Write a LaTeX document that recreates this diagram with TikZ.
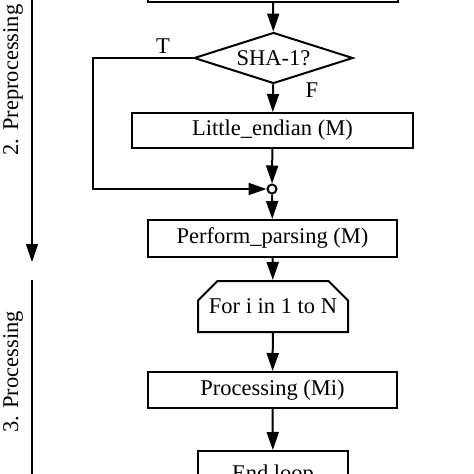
\documentclass[tikz,border=0pt]{standalone}
\usepackage{fontspec}
\setmainfont{Liberation Serif}
\usetikzlibrary{arrows.meta,shapes.geometric,shapes.misc}
\tikzset{
    stage/.style={draw,line width=2pt,rectangle,inner sep=0pt,minimum height=36pt},
    loopbox/.style={draw,line width=2pt,chamfered rectangle,chamfered rectangle corners={north west,north east},
        chamfered rectangle xsep=12pt,chamfered rectangle ysep=12pt,inner sep=0pt,minimum width=150pt,minimum height=51pt},
    flow/.style={line width=2pt,-{Triangle[length=18pt,width=12pt]}},
}
\begin{document}
\begin{tikzpicture}[x=1pt,y=-1pt,font=\fontsize{22.5}{27}\selectfont]
                \useasboundingbox (0,0) rectangle (474,474);
                % main column
                \node[stage,minimum width=250pt] (init) at (273,-16) {};
                \node[draw,line width=2pt,diamond,shape aspect=3.1,inner sep=0pt,minimum width=159pt,minimum height=51pt] (sha) at (273.5,58) {SHA-1?};
                \node[stage,minimum width=281pt,minimum height=35pt] (little) at (272.5,130.5) {Little\_endian (M)};
                \node[draw,line width=2pt,circle,fill=white,inner sep=0pt,minimum size=9pt] (junc) at (272,189) {};
                \node[stage,minimum width=249pt,minimum height=37pt] (parse) at (272.5,238.5) {Perform\_parsing (M)};
                \node[loopbox] (loop) at (273,306.5) {For i in 1 to N};
                \node[stage,minimum width=249pt] (proc) at (272.5,390) {Processing (Mi)};
                \node[stage,minimum width=150pt,minimum height=48pt] (endl) at (273,475) {End loop};
                \foreach \a/\b in {init/sha,sha/little,little/junc,junc/parse,parse/loop,loop/proc,proc/endl}{
                    \draw[flow] (\a) -- (\b);
                }
                % bypass when SHA-1
                \coordinate (bend) at (93,189);
                \draw[flow] (sha.west) -| (bend) -- (junc);
                \node (t) at (163,46) {T};
                \node (f) at (312,90) {F};
                % stages on the left
                \coordinate (pre-a) at (32,-5);
                \coordinate (pre-b) at (32,262);
                \coordinate (pro-a) at (32,280);
                \coordinate (pro-b) at (32,480);
                \draw[flow,line width=1.6pt] (pre-a) -- (pre-b);
                \draw[line width=1.6pt] (pro-a) -- (pro-b);
                \node[rotate=90] (pre) at (13,80) {2. Preprocessing};
                \node[rotate=90] (pro) at (13,372) {3. Processing};
            \end{tikzpicture}
\end{document}
